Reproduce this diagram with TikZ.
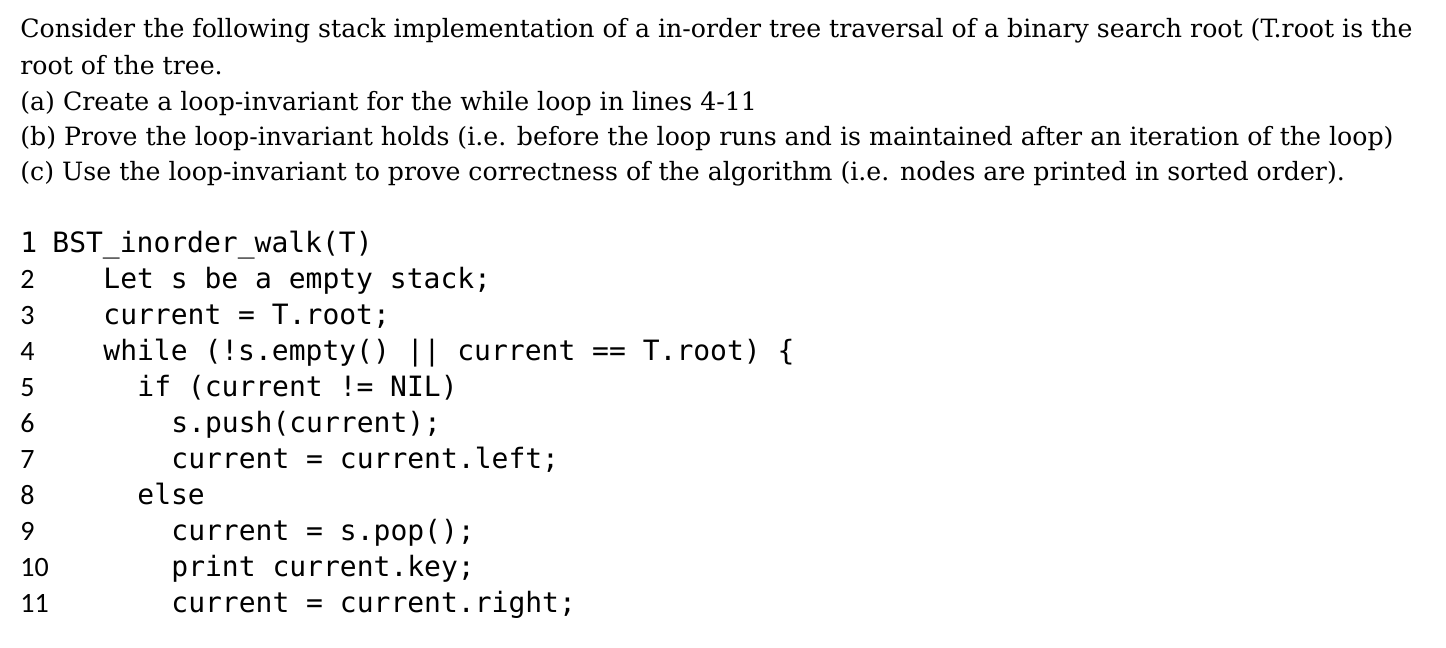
\documentclass[tikz,border=0pt]{standalone}
\usepackage{fontspec}
\setmainfont{DejaVu Serif}
\setmonofont{DejaVu Sans Mono}
\newfontfamily\numfont{Carlito}
\begin{document}
\begin{tikzpicture}[x=1pt,y=1pt,
  txt/.style={anchor=base west,inner sep=0pt,font=\fontsize{12.6}{15}\selectfont},
  code/.style={anchor=base west,inner sep=0pt,font=\ttfamily\fontsize{14}{16}\selectfont},
  num/.style={anchor=base west,inner sep=0pt,font=\numfont\fontsize{14}{16}\selectfont}]
\useasboundingbox (0,0) rectangle (723,-324);
\node[txt] (t1) at (10,-19) {Consider the following stack implementation of a in-order tree traversal of a binary search root (T.root is the};
\node[txt] (t2) at (10,-37) {root of the tree.};
\node[txt] (t3) at (10,-55) {(a) Create a loop-invariant for the while loop in lines 4-11};
\node[txt] (t4) at (10,-72.5) {(b) Prove the loop-invariant holds (i.e. before the loop runs and is maintained after an iteration of the loop)};
\node[txt] (t5) at (10,-90) {(c) Use the loop-invariant to prove correctness of the algorithm (i.e. nodes are printed in sorted order).};
\foreach \n/\ind/\s [count=\i] in {
 1/0/{BST\_inorder\_walk(T)},
 2/3/{Let s be a empty stack;},
 3/3/{current = T.root;},
 4/3/{while (!s.empty() || current == T.root) \{},
 5/5/{if (current != NIL)},
 6/7/{s.push(current);},
 7/7/{current = current.left;},
 8/5/{else},
 9/7/{current = s.pop();},
 10/7/{print current.key;},
 11/7/{current = current.right;}}{
  \node[num] (n\i) at (10,{-126-18*(\i-1)}) {\ifnum\i=1 \ttfamily\fi\n};
  \node[code] (c\i) at ({26+8.5*\ind},{-126-18*(\i-1)}) {\s};
}
\end{tikzpicture}
\end{document}
